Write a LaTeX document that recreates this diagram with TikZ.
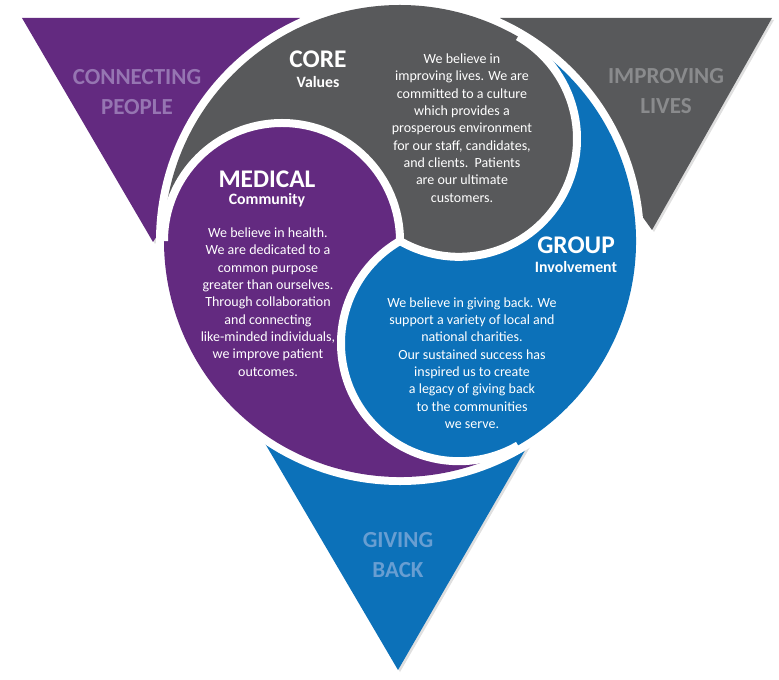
\documentclass[tikz,border=0pt]{standalone}
\usepackage{fontspec}
\setmainfont{Carlito}
\usetikzlibrary{shadows}
\definecolor{medpurple}{RGB}{99,42,128}
\definecolor{coregray}{RGB}{88,89,91}
\definecolor{grpblue}{RGB}{12,113,185}
\definecolor{medpurplelt}{RGB}{150,117,178}
\definecolor{coregraylt}{RGB}{138,139,141}
\definecolor{grpbluelt}{RGB}{104,158,210}
\tikzset{
  cornertri/.style={fill=#1,
    drop shadow={shadow xshift=1pt,shadow yshift=-1pt,opacity=0.25}},
  tritxt/.style={font=\fontsize{11.5}{15}\selectfont\bfseries,text=#1,align=center},
  headtxt/.style={font=\fontsize{12.7}{14}\selectfont\bfseries,text=white,anchor=base},
  subtxt/.style={font=\fontsize{7.9}{9}\selectfont\bfseries,text=white,anchor=base},
  bodytxt/.style={font=\fontsize{7}{8.65}\selectfont,text=white,align=center},
  divline/.style={draw=white,line width=4pt},
}
\begin{document}
\begin{tikzpicture}[x=0.5pt,y=0.5pt]
  \useasboundingbox (-400,-438) rectangle (379,241);
  % corner triangles
  \fill[cornertri=medpurple] (-378,223) -- (-100,223) -- (-247,-1) -- cycle;
  \fill[cornertri=coregray] (100,223) -- (372,223) -- (252,11) -- cycle;
  \fill[cornertri=grpblue] (-137,-199) -- (131,-199) -- (-2,-429) -- cycle;
  \node[tritxt=medpurplelt] (connect) at (-263,149) {CONNECTING\\PEOPLE};
  \node[tritxt=coregraylt] (improve) at (266,150) {IMPROVING\\LIVES};
  \node[tritxt=grpbluelt] (giving) at (-2,-314) {GIVING\\BACK};
  % white ring
  \fill[white] (0,0) circle[radius=244];
  % Core values
  \fill[coregray] (0,0) arc[start angle=0,end angle=180,radius=118]
    arc[start angle=180,end angle=60,radius=236]
    arc[start angle=60,end angle=-120,radius=118] -- cycle;
  % Group involvement
  \fill[grpblue] (0,0) arc[start angle=240,end angle=420,radius=118]
    arc[start angle=60,end angle=-60,radius=236]
    arc[start angle=300,end angle=120,radius=118] -- cycle;
  % Medical community
  \fill[medpurple] (0,0) arc[start angle=120,end angle=300,radius=118]
    arc[start angle=-60,end angle=-180,radius=236]
    arc[start angle=180,end angle=0,radius=118] -- cycle;
  % dividers
  \draw[divline] (0,0) arc[start angle=0,end angle=180,radius=118];
  \draw[divline] (0,0) arc[start angle=240,end angle=420,radius=118];
  \draw[divline] (0,0) arc[start angle=120,end angle=300,radius=118];
  % texts
  \node[headtxt] (core) at (-82,173) {CORE};
  \node[subtxt] (values) at (-82,153) {Values};
  \node[bodytxt] (coretxt) at (62,113) {We believe in\\improving lives. We are\\committed to a culture\\which provides a\\prosperous environment\\for our staff, candidates,\\and clients.~~Patients\\are our ultimate\\customers.};
  \node[headtxt] (medical) at (-133,53) {MEDICAL};
  \node[subtxt] (community) at (-133,36) {Community};
  \node[bodytxt] (medtxt) at (-132,-61) {We believe in health.\\We are dedicated to a\\common purpose\\greater than ourselves.\\Through collaboration\\and connecting\\like-minded individuals,\\we improve patient\\outcomes.};
  \node[headtxt] (group) at (176,-12) {GROUP};
  \node[subtxt] (involve) at (176,-32) {Involvement};
  \node[bodytxt] (grptxt) at (72,-122) {We believe in giving back. We\\support a variety of local and\\national charities.\\Our sustained success has\\inspired us to create\\a legacy of giving back\\to the communities\\we serve.};
\end{tikzpicture}
\end{document}
